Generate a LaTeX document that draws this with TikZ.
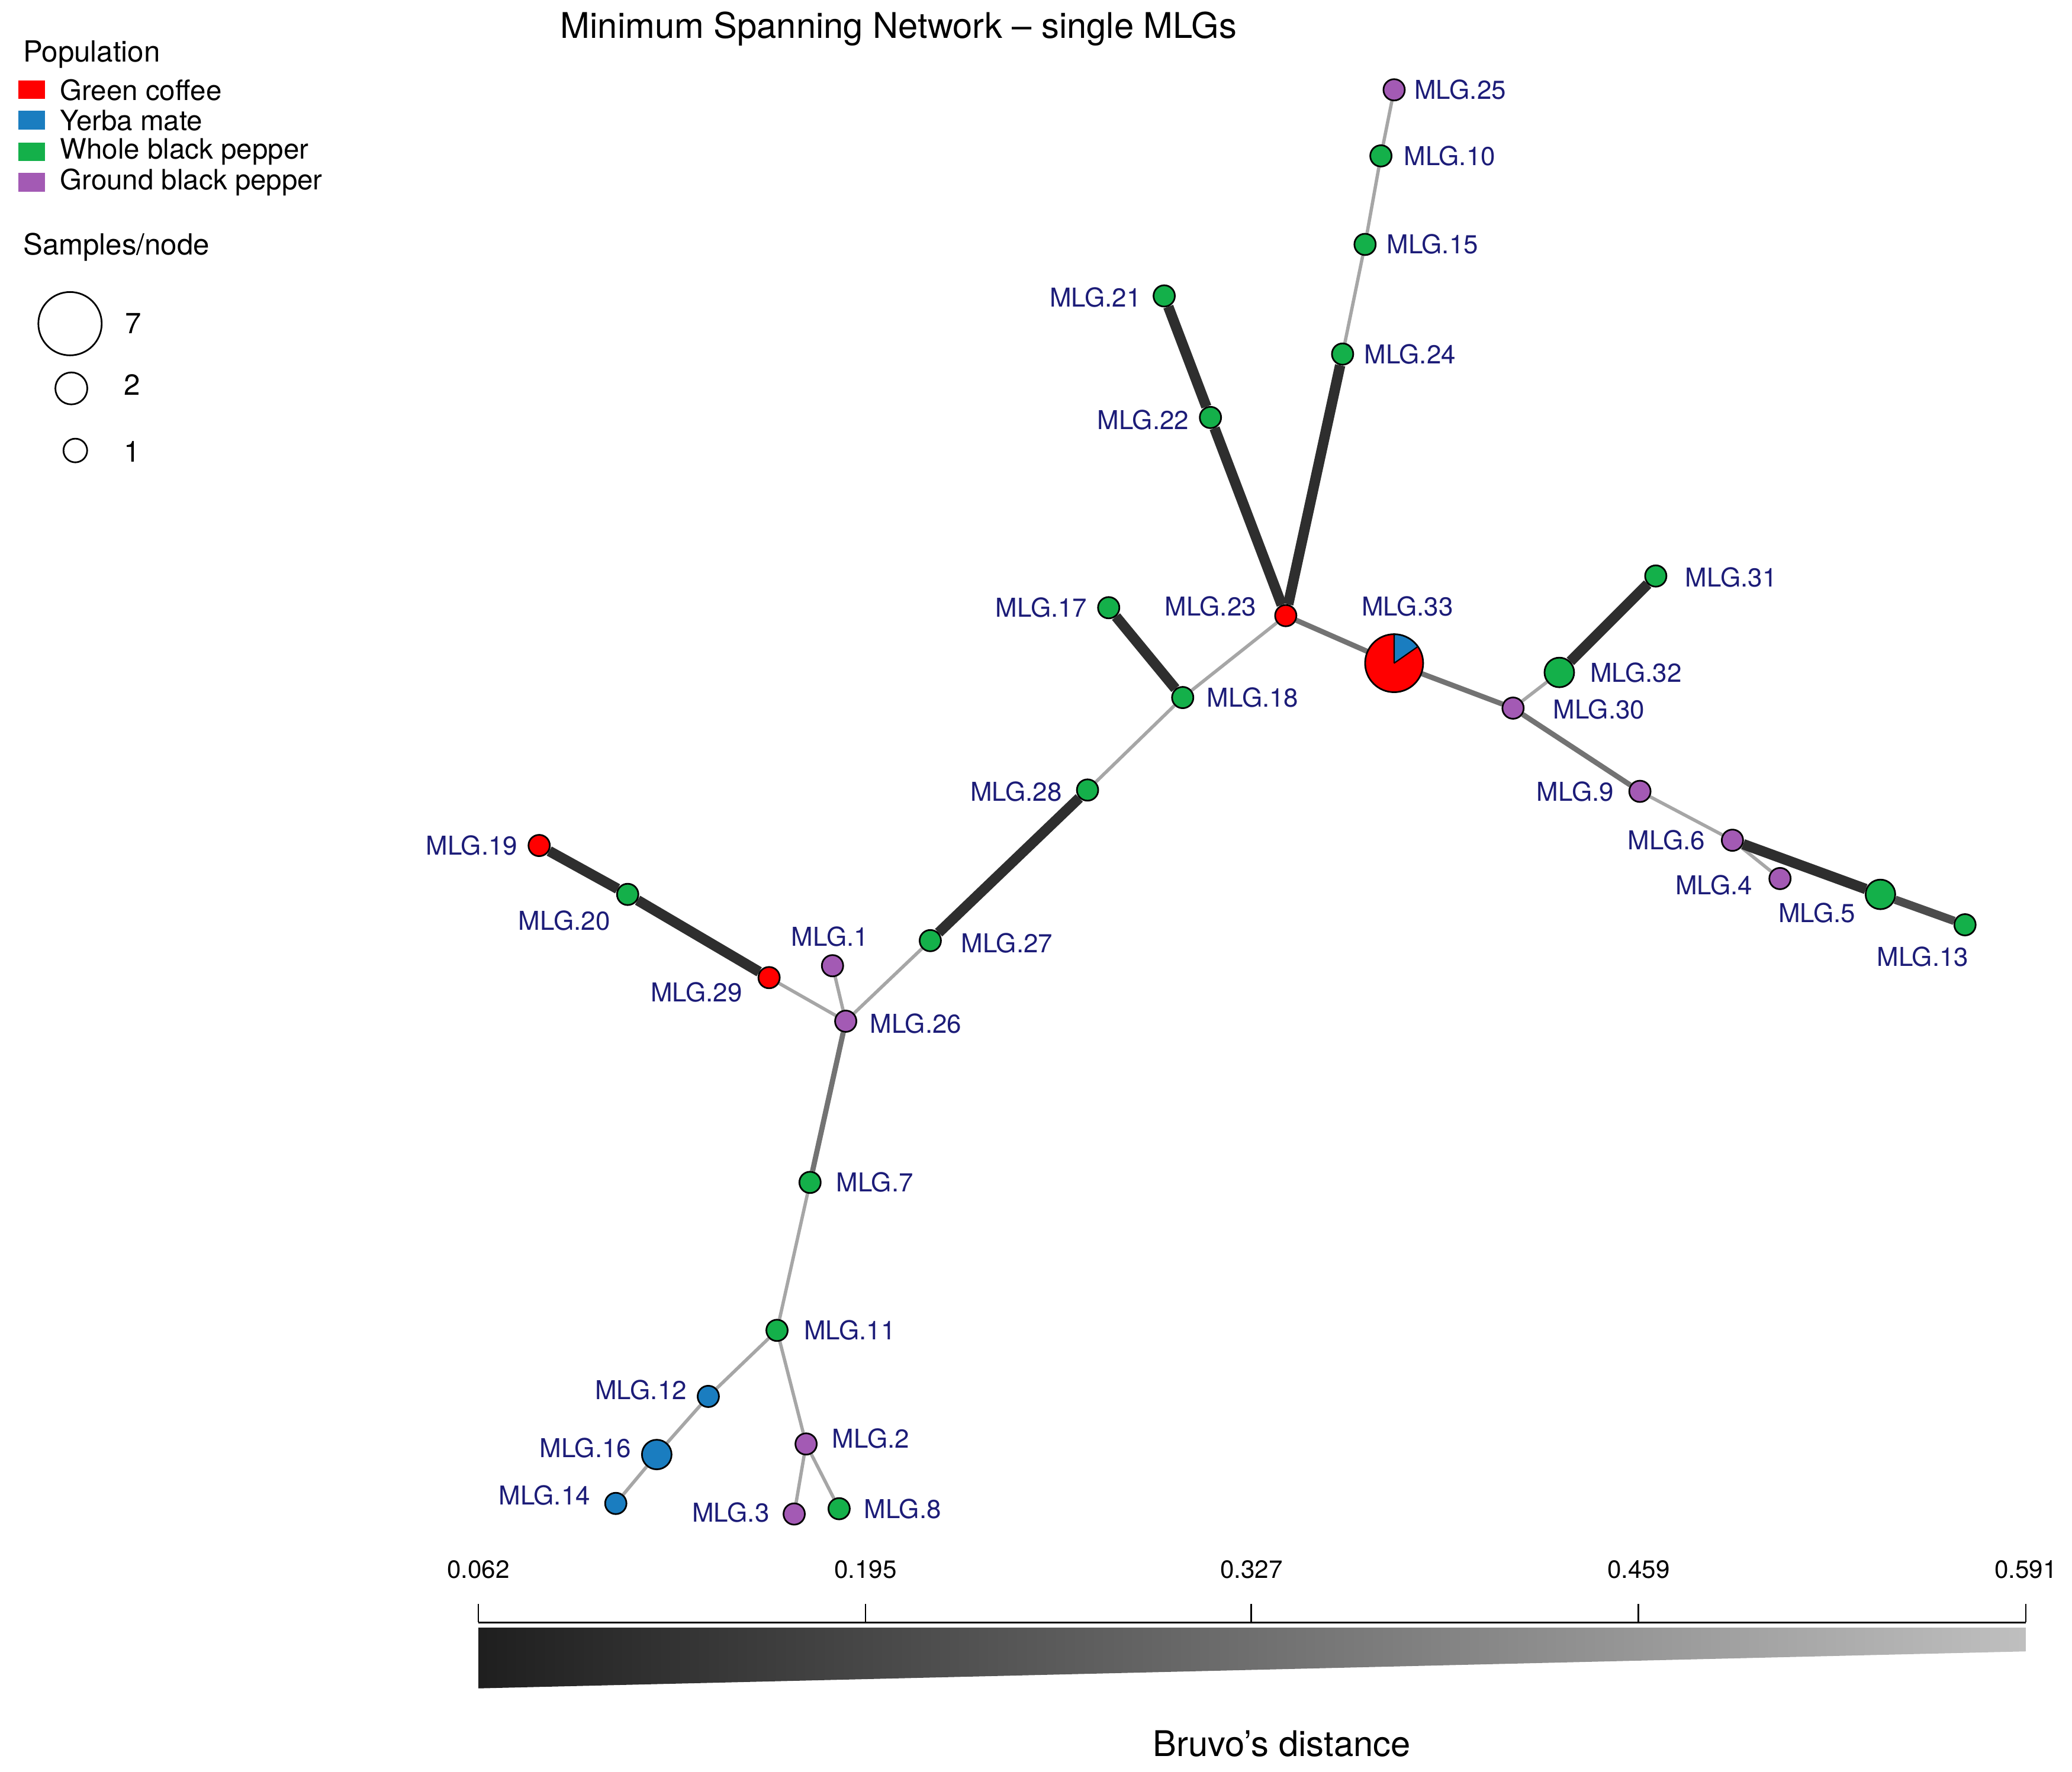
\documentclass[tikz,border=0pt]{standalone}
\usepackage{fontspec}
\setmainfont{TeX Gyre Heros}
\usetikzlibrary{backgrounds}
\definecolor{cR}{HTML}{FF0000}
\definecolor{cB}{HTML}{1A7DC0}
\definecolor{cG}{HTML}{14B04A}
\definecolor{cP}{HTML}{A35AB4}
\definecolor{labc}{HTML}{1C1C78}
\tikzset{
 nd/.style={circle,draw=black,line width=0.8pt,minimum size=0.36cm,inner sep=0pt},
 big/.style={minimum size=0.5cm},
 lab/.style={text=labc,font=\fontsize{12.5}{14}\selectfont},
 thk/.style={line width=5pt,color=black!82},
 med/.style={line width=2.5pt,color=black!55},
 lgt/.style={line width=1.6pt,color=black!35},
}
\begin{document}
\begin{tikzpicture}[x=0.02232cm,y=-0.02232cm]
\useasboundingbox (0,0) rectangle (1568,1341);
\node[font=\fontsize{17}{20}\selectfont] at (680,22) {Minimum Spanning Network -- single MLGs};
% legend
\node[anchor=west,font=\fontsize{14}{16}\selectfont] at (12,41) {Population};
\foreach \y/\c/\t in {68/cR/Green coffee,91/cB/Yerba mate,115/cG/Whole black pepper,138/cP/Ground black pepper}{
 \fill[\c] (14,\y-7) rectangle (34,\y+7);
 \node[anchor=west,font=\fontsize{13.5}{15}\selectfont] at (40,\y) {\t};}
\node[anchor=west,font=\fontsize{14}{16}\selectfont] at (12,187) {Samples/node};
\node[circle,draw,line width=0.8pt,minimum size=1.07cm,inner sep=0pt] (l7) at (53,245) {};
\node[circle,draw,line width=0.8pt,minimum size=0.54cm,inner sep=0pt] (l2) at (54,294) {};
\node[circle,draw,line width=0.8pt,minimum size=0.4cm,inner sep=0pt] (l1) at (57,341) {};
\node[font=\fontsize{14}{16}\selectfont] at (101,245) {7};
\node[font=\fontsize{14}{16}\selectfont] at (100,291) {2};
\node[font=\fontsize{14}{16}\selectfont] at (100,342) {1};
% nodes
\foreach \n/\x/\y/\c in {25/1055/68/cP,10/1045/118/cG,15/1033/185/cG,24/1016/268/cG,21/881/224/cG,22/916/316/cG,23/973/466/cR,17/839/460/cG,18/895/528/cG,28/823/598/cG,27/704/712/cG,26/640/773/cP,1/630/731/cP,29/582/740/cR,20/475/677/cG,19/408/640/cR,7/613/895/cG,11/588/1007/cG,12/536/1057/cB,14/466/1138/cB,2/610/1093/cP,3/601/1146/cP,8/635/1142/cG,31/1253/436/cG,30/1145/536/cP,9/1241/599/cP,6/1311/636/cP,4/1347/665/cP,13/1487/700/cG}
 \node[nd,fill=\c] (n\n) at (\x,\y) {};
\foreach \n/\x/\y/\c in {16/497/1101/cB,32/1180/509/cG,5/1423/677/cG}
 \node[nd,big,fill=\c] (n\n) at (\x,\y) {};
% pie node
\node[circle,minimum size=0.98cm,inner sep=0pt] (n33) at (1055,502) {};
\fill[cR] (n33.center) -- ++(35:0.49cm) arc[start angle=35,end angle=-270,radius=0.49cm] -- cycle;
\fill[cB] (n33.center) -- ++(35:0.49cm) arc[start angle=35,end angle=90,radius=0.49cm] -- cycle;
\draw[line width=0.8pt] (n33.center) circle[radius=0.49cm];
\draw[line width=0.6pt] (n33.center) -- ++(35:0.49cm) (n33.center) -- ++(90:0.49cm);
% edges
\begin{scope}[on background layer]
\draw[lgt] (n25)--(n10); \draw[lgt] (n10)--(n15); \draw[lgt] (n15)--(n24);
\draw[thk] (n24)--(n23); \draw[thk] (n21)--(n22); \draw[thk] (n22)--(n23);
\draw[med] (n23)--(n33); \draw[lgt] (n23)--(n18); \draw[thk] (n17)--(n18);
\draw[lgt] (n18)--(n28); \draw[thk] (n28)--(n27); \draw[lgt] (n27)--(n26);
\draw[lgt] (n26)--(n1); \draw[lgt] (n26)--(n29); \draw[thk] (n29)--(n20); \draw[thk] (n20)--(n19);
\draw[med] (n26)--(n7); \draw[lgt] (n7)--(n11); \draw[lgt] (n11)--(n12); \draw[lgt] (n12)--(n16);
\draw[lgt] (n16)--(n14); \draw[lgt] (n11)--(n2); \draw[lgt] (n2)--(n3); \draw[lgt] (n2)--(n8);
\draw[med] (n33)--(n30); \draw[lgt] (n30)--(n32); \draw[thk] (n32)--(n31); \draw[med] (n30)--(n9);
\draw[lgt] (n9)--(n6); \draw[lgt] (n6)--(n4); \draw[thk] (n6)--(n5); \draw[line width=4pt,color=black!70] (n5)--(n13);
\end{scope}
% labels
\foreach \n/\x/\y in {25/1105/68,10/1097/118,15/1084/185,24/1067/268,21/829/225,22/865/318,23/916/459,33/1065/459,17/788/460,18/948/528,28/769/599,27/762/714,26/693/775,1/628/709,29/527/751,20/427/697,19/357/640,7/662/895,11/643/1007,12/485/1052,16/443/1096,14/412/1132,2/659/1089,3/553/1145,8/683/1142,31/1310/437,32/1238/509,30/1210/537,9/1192/599,6/1261/636,4/1297/670,5/1375/691,13/1455/724}
 \node[lab] (t\n) at (\x,\y) {MLG.\n};
% scale
\shade[left color=black!88,right color=black!25] (362,1232) -- (1533,1232) -- (1533,1250) -- (362,1278) -- cycle;
\draw[line width=0.8pt] (362,1228) -- (1533,1228);
\foreach \x/\t in {362/0.062,655/0.195,947/0.327,1240/0.459,1533/0.591}{
 \draw[line width=0.8pt] (\x,1228) -- (\x,1214);
 \node[font=\fontsize{12}{14}\selectfont] at (\x,1188) {\t};}
\node[font=\fontsize{17}{20}\selectfont] at (970,1320) {Bruvo’s distance};
\end{tikzpicture}
\end{document}
